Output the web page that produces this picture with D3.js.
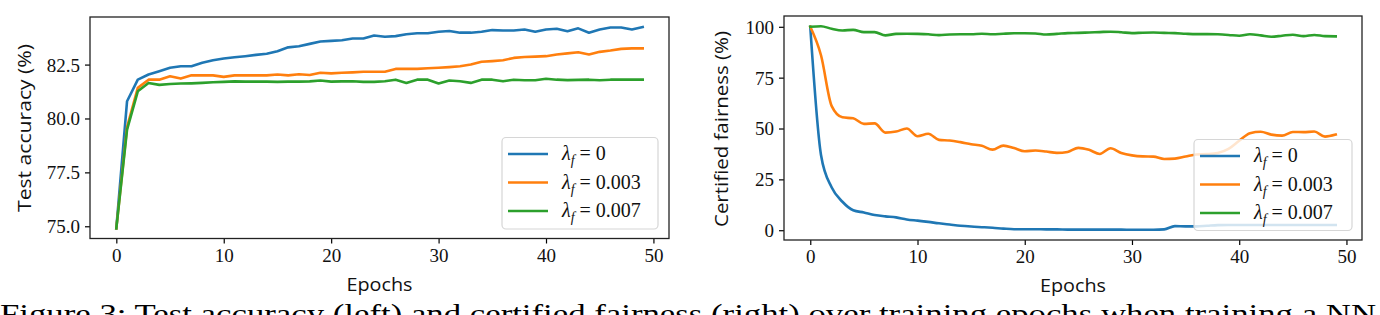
<!DOCTYPE html>
<html>
<head>
<meta charset="utf-8">
<script src="https://cdn.jsdelivr.net/npm/d3@7"></script>
<style>
  html, body { margin: 0; padding: 0; background: #fff; }
  svg { display: block; }
</style>
</head>
<body>
<svg id="chart" width="1380" height="315"></svg>
<script>
// ---------- data ----------
const epochs = d3.range(50);
const seriesNames = ["0", "0.003", "0.007"];
const colors = ["#1f77b4", "#ff7f0e", "#2ca02c"];

const accLam0 = [74.9, 80.8, 81.8, 82.04, 82.19, 82.35, 82.42, 82.42, 82.58, 82.7,
  82.78, 82.84, 82.89, 82.95, 83.0, 83.12, 83.3, 83.35, 83.46, 83.57,
  83.6, 83.63, 83.71, 83.71, 83.85, 83.79, 83.82, 83.91, 83.95, 83.95,
  84.02, 84.06, 83.98, 83.98, 84.02, 84.1, 84.08, 84.08, 84.13, 84.02,
  84.13, 84.16, 84.05, 84.18, 83.98, 84.13, 84.22, 84.22, 84.13, 84.24];
const accLam003 = [74.9, 79.6, 81.42, 81.8, 81.8, 81.96, 81.85, 82.0, 82.0, 82.0,
  81.93, 82.0, 82.0, 82.0, 82.0, 82.04, 82.0, 82.05, 82.02, 82.12,
  82.09, 82.12, 82.14, 82.17, 82.17, 82.17, 82.3, 82.3, 82.3, 82.33,
  82.35, 82.38, 82.42, 82.5, 82.63, 82.66, 82.7, 82.81, 82.85, 82.87,
  82.89, 82.97, 83.02, 83.07, 82.97, 83.09, 83.15, 83.23, 83.25, 83.25];
const accLam007 = [74.9, 79.48, 81.26, 81.65, 81.56, 81.6, 81.62, 81.63, 81.65, 81.68,
  81.7, 81.72, 81.71, 81.71, 81.71, 81.7, 81.71, 81.71, 81.72, 81.76,
  81.71, 81.72, 81.73, 81.7, 81.7, 81.73, 81.8, 81.65, 81.8, 81.8,
  81.62, 81.76, 81.73, 81.65, 81.8, 81.8, 81.73, 81.8, 81.77, 81.77,
  81.84, 81.8, 81.78, 81.79, 81.8, 81.77, 81.8, 81.8, 81.8, 81.8];

const fairLam0 = [100, 37, 21, 14, 9.8, 8.7, 7.5, 6.8, 6.3, 5.3,
  4.7, 4.1, 3.4, 2.8, 2.2, 1.8, 1.5, 1.2, 0.8, 0.5,
  0.5, 0.5, 0.4, 0.4, 0.3, 0.3, 0.3, 0.3, 0.3, 0.3,
  0.2, 0.2, 0.2, 0.4, 2.0, 1.9, 1.9, 2.2, 2.5, 2.6,
  2.6, 2.6, 2.6, 2.6, 2.6, 2.6, 2.6, 2.6, 2.6, 2.6];
const fairLam003 = [100, 86, 61, 55.5, 55, 52.3, 52.5, 48, 48.5, 50,
  46.2, 47.4, 44.4, 44.1, 43.3, 42.3, 41.5, 39.6, 41.6, 40.4,
  38.8, 39.2, 38.7, 38.0, 38.5, 40.5, 39.5, 37.5, 40.3, 38,
  36.8, 36.3, 36.2, 35, 35.2, 36.2, 37.2, 37.4, 38, 40,
  44, 47.7, 48.4, 47, 46.5, 48.3, 48.2, 48.5, 46, 47];
const fairLam007 = [100, 100.3, 99.0, 98.2, 98.5, 97.4, 97.4, 95.8, 96.5, 96.6,
  96.5, 96.3, 95.9, 96.2, 96.3, 96.3, 96.6, 96.3, 96.6, 96.8,
  96.8, 96.7, 96.2, 96.5, 96.9, 97.0, 97.2, 97.4, 97.6, 97.3,
  96.9, 97.1, 97.2, 97.0, 96.9, 96.6, 96.4, 96.4, 96.3, 96.0,
  95.6, 96.3, 95.8, 95.1, 95.6, 96.1, 95.4, 96.0, 95.4, 95.3];

const xTicks = [0, 10, 20, 30, 40, 50];
const accTicks = [75.0, 77.5, 80.0, 82.5];
const fairTicks = [0, 25, 50, 75, 100];
const xLabel = "Epochs";
const accLabel = "Test accuracy (%)";
const fairLabel = "Certified fairness (%)";
const caption = "Figure 3: Test accuracy (left) and certified fairness (right) over training epochs when training a NN";

// ---------- drawing ----------
const svg = d3.select("#chart");
const serif = "'Liberation Serif', 'DejaVu Serif', serif";
const sans = "'Open Sans', 'DejaVu Sans', sans-serif";

function padded(arrs) {
  const lo = d3.min(arrs, a => d3.min(a)), hi = d3.max(arrs, a => d3.max(a));
  const m = (hi - lo) * 0.05;
  return [lo - m, hi + m];
}

function panel(cfg) {
  const g = svg.append("g");
  const xd = [0 - 49 * 0.05, 49 + 49 * 0.05];
  const x = d3.scaleLinear().domain(xd).range([cfg.left, cfg.right]);
  const y = d3.scaleLinear().domain(padded(cfg.series)).range([cfg.bottom, cfg.top]);

  // lines
  const line = d3.line().x((d, i) => x(epochs[i])).y(d => y(d)).curve(cfg.curve);
  cfg.series.forEach((s, k) => {
    g.append("path").datum(s)
      .attr("d", line)
      .attr("fill", "none")
      .attr("stroke", colors[k])
      .attr("stroke-width", 2.6)
      .attr("stroke-linejoin", "round")
      .attr("stroke-linecap", "square");
  });

  // axes
  const xa = g.append("g").attr("transform", `translate(0,${cfg.bottom})`)
    .call(d3.axisBottom(x).tickValues(xTicks).tickSize(5).tickPadding(5).tickFormat(d3.format("d")));
  const ya = g.append("g").attr("transform", `translate(${cfg.left},0)`)
    .call(d3.axisLeft(y).tickValues(cfg.yTicks).tickSize(5).tickPadding(5).tickFormat(cfg.yFormat));
  [xa, ya].forEach(a => {
    a.attr("font-family", serif).attr("font-size", 19);
    a.select(".domain").remove();
    a.selectAll(".tick line").attr("stroke", "#000").attr("stroke-width", 1.2);
    a.selectAll(".tick text").attr("font-family", serif).attr("font-size", 19).attr("fill", "#111");
  });
  ya.selectAll(".tick text").attr("dy", "0.34em");

  // frame
  g.append("rect")
    .attr("x", cfg.left).attr("y", cfg.top)
    .attr("width", cfg.right - cfg.left).attr("height", cfg.bottom - cfg.top)
    .attr("fill", "none").attr("stroke", "#222").attr("stroke-width", 1.3);

  // labels
  g.append("text").text(xLabel)
    .attr("x", (cfg.left + cfg.right) / 2).attr("y", cfg.bottom + 52)
    .attr("text-anchor", "middle").attr("font-family", sans).attr("font-size", 19)
    .attr("textLength", 66).attr("lengthAdjust", "spacingAndGlyphs").attr("fill", "#111");
  g.append("text").text(cfg.yLabel)
    .attr("transform", `translate(${cfg.ylx},${cfg.yly}) rotate(-90)`)
    .attr("text-anchor", "middle").attr("font-family", sans).attr("font-size", 19)
    .attr("textLength", cfg.ylLen).attr("lengthAdjust", "spacingAndGlyphs").attr("fill", "#111");

  // legend
  const L = cfg.legend;
  g.append("rect")
    .attr("x", L.x).attr("y", L.y).attr("width", L.w).attr("height", L.h)
    .attr("rx", 4).attr("ry", 4)
    .attr("fill", "#fff").attr("fill-opacity", 0.8)
    .attr("stroke", "#d6d6d6").attr("stroke-width", 1.2);
  seriesNames.forEach((n, k) => {
    const yy = L.y + 16.5 + k * 28.5;
    g.append("line")
      .attr("x1", L.x + 6).attr("x2", L.x + 46)
      .attr("y1", yy).attr("y2", yy)
      .attr("stroke", colors[k]).attr("stroke-width", 2.6);
    const t = g.append("text")
      .attr("x", L.x + 60).attr("y", yy + 6)
      .attr("font-family", serif).attr("font-size", 20).attr("fill", "#111");
    t.append("tspan").text("λ").attr("font-style", "italic");
    t.append("tspan").text("f").attr("font-style", "italic").attr("font-size", 14).attr("dy", 5);
    t.append("tspan").text(" = " + n).attr("dy", -5);
  });
}

panel({
  left: 90, right: 669, top: 17, bottom: 238.5,
  series: [accLam0, accLam003, accLam007],
  yTicks: accTicks, yFormat: d3.format(".1f"),
  curve: d3.curveLinear,
  yLabel: accLabel, ylx: 31, yly: 128, ylLen: 168,
  legend: { x: 502, y: 137.5, w: 156, h: 91.5 }
});

panel({
  left: 784, right: 1362, top: 16, bottom: 240,
  series: [fairLam0, fairLam003, fairLam007],
  yTicks: fairTicks, yFormat: d3.format("d"),
  curve: d3.curveMonotoneX,
  yLabel: fairLabel, ylx: 728, yly: 129, ylLen: 196,
  legend: { x: 1194, y: 139.5, w: 158, h: 91 }
});

// caption (cut off by the bottom edge, as in the reference)
svg.append("text").text(caption)
  .attr("x", 0).attr("y", 323)
  .attr("font-family", serif).attr("font-size", 28).attr("fill", "#000")
  .attr("textLength", 1376).attr("lengthAdjust", "spacingAndGlyphs");
</script>
</body>
</html>
